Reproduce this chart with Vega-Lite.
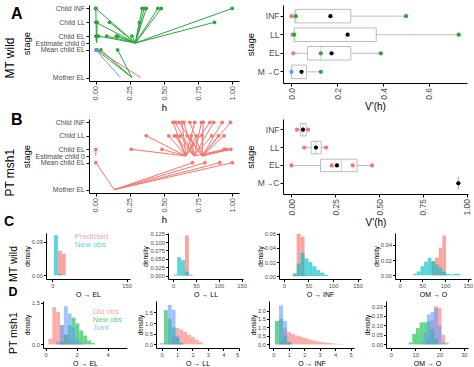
{
"$schema": "https://vega.github.io/schema/vega-lite/v6.json",
"padding": {"left": 3, "top": 4, "right": 0, "bottom": 0},
"background": "white",
"columns": 1,
"align": "none",
"spacing": 0,
"config": {
  "view": {"stroke": null},
  "font": "Liberation Sans",
  "axis": {"grid": false, "domainColor": "black", "tickColor": "black", "tickSize": 3, "labelColor": "#4D4D4D", "titleColor": "black", "titleFontWeight": "normal", "labelPadding": 1.5, "titlePadding": 3, "labelFont": "Liberation Sans", "titleFont": "Liberation Sans", "labelOverlap": false},
  "title": {"fontWeight": "normal", "color": "black", "font": "Liberation Sans"}
},
"datasets": {
  "none": [],
  "segA": [
    {"h":0,"y":5,"h2":0.29,"y2":2.5,"c":"g"},
    {"h":0,"y":5,"h2":0.005,"y2":2.5,"c":"g"},
    {"h":0.34,"y":5,"h2":0.29,"y2":2.5,"c":"g"},
    {"h":0.355,"y":5,"h2":0.29,"y2":2.5,"c":"g"},
    {"h":0.37,"y":5,"h2":0.29,"y2":2.5,"c":"g"},
    {"h":0.455,"y":5,"h2":0.29,"y2":2.5,"c":"g"},
    {"h":0.48,"y":5,"h2":0.29,"y2":2.5,"c":"g"},
    {"h":1.0,"y":5,"h2":0.29,"y2":2.5,"c":"g"},
    {"h":0,"y":4,"h2":0.29,"y2":2.5,"c":"g"},
    {"h":0.01,"y":4,"h2":0.005,"y2":2.5,"c":"g"},
    {"h":0.10,"y":4,"h2":0.29,"y2":2.5,"c":"g"},
    {"h":0.32,"y":4,"h2":0.29,"y2":2.5,"c":"g"},
    {"h":0.87,"y":4,"h2":0.29,"y2":2.5,"c":"g"},
    {"h":0,"y":3,"h2":0.005,"y2":2.5,"c":"g"},
    {"h":0.01,"y":3,"h2":0.005,"y2":2.5,"c":"g"},
    {"h":0.02,"y":3,"h2":0.29,"y2":2.5,"c":"g"},
    {"h":0.08,"y":3,"h2":0.29,"y2":2.5,"c":"g"},
    {"h":0.15,"y":3,"h2":0.29,"y2":2.5,"c":"g"},
    {"h":0.16,"y":3,"h2":0.29,"y2":2.5,"c":"g"},
    {"h":0.265,"y":3,"h2":0.29,"y2":2.5,"c":"g"},
    {"h":0.01,"y":2,"h2":0.33,"y2":0,"c":"r"},
    {"h":0.005,"y":2,"h2":0.265,"y2":0,"c":"g"},
    {"h":0.037,"y":2,"h2":0.265,"y2":0,"c":"g"},
    {"h":0.16,"y":2,"h2":0.265,"y2":0,"c":"g"},
    {"h":0,"y":2,"h2":0.18,"y2":0,"c":"b"}
  ],
  "segB": [
    {"h":0,"y":2,"h2":0.135,"y2":0},
    {"h":0.71,"y":2,"h2":0.135,"y2":0},
    {"h":0.80,"y":2,"h2":0.135,"y2":0},
    {"h":0.91,"y":2,"h2":0.135,"y2":0},
    {"h":1.0,"y":2,"h2":0.135,"y2":0},
    {"h":0,"y":3,"h2":0,"y2":2.5},
    {"h":0.26,"y":3,"h2":0.66,"y2":2.5},
    {"h":0.485,"y":3,"h2":0.66,"y2":2.5},
    {"h":0.94,"y":3,"h2":0.78,"y2":2.5},
    {"h":0.95,"y":3,"h2":0.72,"y2":2.5},
    {"h":0.96,"y":3,"h2":0.78,"y2":2.5},
    {"h":0.99,"y":3,"h2":0.78,"y2":2.5},
    {"h":0.37,"y":4,"h2":0.66,"y2":2.5},
    {"h":0.535,"y":4,"h2":0.66,"y2":2.5},
    {"h":0.576,"y":4,"h2":0.72,"y2":2.5},
    {"h":0.59,"y":4,"h2":0.66,"y2":2.5},
    {"h":0.62,"y":4,"h2":0.72,"y2":2.5},
    {"h":0.67,"y":4,"h2":0.78,"y2":2.5},
    {"h":0.70,"y":4,"h2":0.72,"y2":2.5},
    {"h":0.74,"y":4,"h2":0.66,"y2":2.5},
    {"h":0.78,"y":4,"h2":0.78,"y2":2.5},
    {"h":0.85,"y":4,"h2":0.72,"y2":2.5},
    {"h":0.90,"y":4,"h2":0.78,"y2":2.5},
    {"h":0.94,"y":4,"h2":0.78,"y2":2.5},
    {"h":0.566,"y":5,"h2":0.66,"y2":2.5},
    {"h":0.583,"y":5,"h2":0.72,"y2":2.5},
    {"h":0.608,"y":5,"h2":0.78,"y2":2.5},
    {"h":0.632,"y":5,"h2":0.66,"y2":2.5},
    {"h":0.645,"y":5,"h2":0.72,"y2":2.5},
    {"h":0.69,"y":5,"h2":0.78,"y2":2.5},
    {"h":0.725,"y":5,"h2":0.66,"y2":2.5},
    {"h":0.775,"y":5,"h2":0.72,"y2":2.5},
    {"h":0.787,"y":5,"h2":0.78,"y2":2.5},
    {"h":0.836,"y":5,"h2":0.66,"y2":2.5},
    {"h":0.865,"y":5,"h2":0.72,"y2":2.5},
    {"h":0.926,"y":5,"h2":0.78,"y2":2.5},
    {"h":0.988,"y":5,"h2":0.78,"y2":2.5}
  ],
  "boxA": [
    {"st":"INF","lo":0.0,"q1":0.015,"med":0.019,"q3":0.259,"hi":0.50},
    {"st":"LL","lo":0.005,"q1":0.012,"med":0.013,"q3":0.37,"hi":0.73},
    {"st":"EL","lo":0.008,"q1":0.07,"med":0.128,"q3":0.259,"hi":0.39},
    {"st":"M→C","lo":0.0,"q1":0.0,"med":0.0,"q3":0.065,"hi":0.128}
  ],
  "dotA": [
    {"st":"INF","v":0.0,"c":"r"},{"st":"INF","v":0.019,"c":"g"},{"st":"INF","v":0.50,"c":"g"},{"st":"INF","v":0.17,"c":"k"},
    {"st":"LL","v":0.005,"c":"r"},{"st":"LL","v":0.012,"c":"g"},{"st":"LL","v":0.73,"c":"g"},{"st":"LL","v":0.245,"c":"k"},
    {"st":"EL","v":0.008,"c":"r"},{"st":"EL","v":0.128,"c":"g"},{"st":"EL","v":0.39,"c":"g"},{"st":"EL","v":0.175,"c":"k"},
    {"st":"M→C","v":0.0,"c":"b"},{"st":"M→C","v":0.128,"c":"g"},{"st":"M→C","v":0.044,"c":"k"}
  ],
  "boxB": [
    {"st":"INF","lo":0.032,"q1":0.051,"med":0.066,"q3":0.084,"hi":0.095},
    {"st":"LL","lo":0.073,"q1":0.113,"med":0.137,"q3":0.17,"hi":0.198},
    {"st":"EL","lo":0.0,"q1":0.166,"med":0.286,"q3":0.375,"hi":0.46},
    {"st":"M→C","lo":0.953,"q1":0.953,"med":0.953,"q3":0.953,"hi":0.953}
  ],
  "dotB": [
    {"st":"INF","v":0.032,"c":"r"},{"st":"INF","v":0.095,"c":"r"},{"st":"INF","v":0.066,"c":"k"},
    {"st":"LL","v":0.073,"c":"r"},{"st":"LL","v":0.198,"c":"r"},{"st":"LL","v":0.14,"c":"k"},
    {"st":"EL","v":0.0,"c":"r"},{"st":"EL","v":0.23,"c":"r"},{"st":"EL","v":0.35,"c":"r"},{"st":"EL","v":0.46,"c":"r"},{"st":"EL","v":0.26,"c":"k"},
    {"st":"M→C","v":0.953,"c":"k"}
  ],
  "hist": [
    {"p":"C1","s":"pred","x0":11,"x1":19,"d":0.066},
    {"p":"C1","s":"pred","x0":19,"x1":27,"d":0.058},
    {"p":"C1","s":"newC","x0":3,"x1":11,"d":0.108},
    {"p":"C1","s":"newC","x0":11,"x1":19,"d":0.004},
    {"p":"C2","s":"pred","x0":17.7,"x1":26.2,"d":0.002},
    {"p":"C2","s":"pred","x0":26.2,"x1":34.7,"d":0.12},
    {"p":"C2","s":"newC","x0":0.7,"x1":9.2,"d":0.003},
    {"p":"C2","s":"newC","x0":9.2,"x1":17.7,"d":0.055},
    {"p":"C2","s":"newC","x0":17.7,"x1":26.2,"d":0.046},
    {"p":"C2","s":"newC","x0":26.2,"x1":34.7,"d":0.012},
    {"p":"C2","s":"newC","x0":34.7,"x1":43.2,"d":0.003},
    {"p":"C3","s":"pred","x0":18,"x1":26,"d":0.002},
    {"p":"C3","s":"pred","x0":26,"x1":34,"d":0.06},
    {"p":"C3","s":"pred","x0":34,"x1":42,"d":0.056},
    {"p":"C3","s":"pred","x0":42,"x1":50,"d":0.001},
    {"p":"C3","s":"newC","x0":18,"x1":26,"d":0.004},
    {"p":"C3","s":"newC","x0":26,"x1":34,"d":0.018},
    {"p":"C3","s":"newC","x0":34,"x1":42,"d":0.033},
    {"p":"C3","s":"newC","x0":42,"x1":50,"d":0.025},
    {"p":"C3","s":"newC","x0":50,"x1":58,"d":0.02},
    {"p":"C3","s":"newC","x0":58,"x1":66,"d":0.014},
    {"p":"C3","s":"newC","x0":66,"x1":74,"d":0.009},
    {"p":"C3","s":"newC","x0":74,"x1":82,"d":0.005},
    {"p":"C3","s":"newC","x0":82,"x1":90,"d":0.002},
    {"p":"C4","s":"pred","x0":70,"x1":78,"d":0.018},
    {"p":"C4","s":"pred","x0":78,"x1":86,"d":0.023},
    {"p":"C4","s":"pred","x0":86,"x1":94,"d":0.036},
    {"p":"C4","s":"pred","x0":94,"x1":102,"d":0.052},
    {"p":"C4","s":"newC","x0":30,"x1":38,"d":0.002},
    {"p":"C4","s":"newC","x0":38,"x1":46,"d":0.005},
    {"p":"C4","s":"newC","x0":46,"x1":54,"d":0.012},
    {"p":"C4","s":"newC","x0":54,"x1":62,"d":0.018},
    {"p":"C4","s":"newC","x0":62,"x1":70,"d":0.023},
    {"p":"C4","s":"newC","x0":70,"x1":78,"d":0.019},
    {"p":"C4","s":"newC","x0":78,"x1":86,"d":0.014},
    {"p":"C4","s":"newC","x0":86,"x1":94,"d":0.010},
    {"p":"C4","s":"newC","x0":94,"x1":102,"d":0.005},
    {"p":"C4","s":"newC","x0":102,"x1":110,"d":0.002},
    {"p":"C4","s":"newC","x0":110,"x1":118,"d":0.001},
    {"p":"C4","s":"newC","x0":118,"x1":126,"d":0.002},
    {"p":"C4","s":"newC","x0":126,"x1":134,"d":0.002},
    {"p":"D1","s":"old","x0":0.18,"x1":0.43,"d":0.2},
    {"p":"D1","s":"old","x0":0.43,"x1":0.68,"d":1.35},
    {"p":"D1","s":"old","x0":0.68,"x1":0.93,"d":1.17},
    {"p":"D1","s":"old","x0":0.93,"x1":1.18,"d":0.7},
    {"p":"D1","s":"old","x0":1.18,"x1":1.43,"d":0.35},
    {"p":"D1","s":"old","x0":1.43,"x1":1.68,"d":0.2},
    {"p":"D1","s":"old","x0":1.68,"x1":1.93,"d":0.1},
    {"p":"D1","s":"old","x0":1.93,"x1":2.18,"d":0.05},
    {"p":"D1","s":"newD","x0":0.93,"x1":1.18,"d":0.1},
    {"p":"D1","s":"newD","x0":1.18,"x1":1.43,"d":0.35},
    {"p":"D1","s":"newD","x0":1.43,"x1":1.68,"d":0.7},
    {"p":"D1","s":"newD","x0":1.68,"x1":1.93,"d":0.97},
    {"p":"D1","s":"newD","x0":1.93,"x1":2.18,"d":0.76},
    {"p":"D1","s":"newD","x0":2.18,"x1":2.43,"d":0.5},
    {"p":"D1","s":"newD","x0":2.43,"x1":2.68,"d":0.32},
    {"p":"D1","s":"newD","x0":2.68,"x1":2.93,"d":0.14},
    {"p":"D1","s":"newD","x0":2.93,"x1":3.18,"d":0.05},
    {"p":"D1","s":"joint","x0":0.68,"x1":0.93,"d":0.1},
    {"p":"D1","s":"joint","x0":0.93,"x1":1.18,"d":0.7},
    {"p":"D1","s":"joint","x0":1.18,"x1":1.43,"d":1.38},
    {"p":"D1","s":"joint","x0":1.43,"x1":1.68,"d":1.12},
    {"p":"D1","s":"joint","x0":1.68,"x1":1.93,"d":0.6},
    {"p":"D1","s":"joint","x0":1.93,"x1":2.18,"d":0.2},
    {"p":"D1","s":"joint","x0":2.18,"x1":2.43,"d":0.05},
    {"p":"D2","s":"old","x0":0.4,"x1":0.65,"d":0.05},
    {"p":"D2","s":"old","x0":0.65,"x1":0.9,"d":0.4},
    {"p":"D2","s":"old","x0":0.9,"x1":1.15,"d":0.77},
    {"p":"D2","s":"old","x0":1.15,"x1":1.4,"d":0.7},
    {"p":"D2","s":"old","x0":1.4,"x1":1.65,"d":0.58},
    {"p":"D2","s":"old","x0":1.65,"x1":1.9,"d":0.45},
    {"p":"D2","s":"old","x0":1.9,"x1":2.15,"d":0.34},
    {"p":"D2","s":"old","x0":2.15,"x1":2.4,"d":0.22},
    {"p":"D2","s":"old","x0":2.4,"x1":2.65,"d":0.11},
    {"p":"D2","s":"old","x0":2.65,"x1":2.9,"d":0.03},
    {"p":"D2","s":"newD","x0":-0.1,"x1":0.15,"d":0.05},
    {"p":"D2","s":"newD","x0":0.15,"x1":0.4,"d":1.6},
    {"p":"D2","s":"newD","x0":0.4,"x1":0.65,"d":1.2},
    {"p":"D2","s":"newD","x0":0.65,"x1":0.9,"d":0.8},
    {"p":"D2","s":"newD","x0":0.9,"x1":1.15,"d":0.3},
    {"p":"D2","s":"newD","x0":1.15,"x1":1.4,"d":0.05},
    {"p":"D2","s":"joint","x0":0.15,"x1":0.4,"d":0.05},
    {"p":"D2","s":"joint","x0":0.4,"x1":0.65,"d":1.85},
    {"p":"D2","s":"joint","x0":0.65,"x1":0.9,"d":1.62},
    {"p":"D2","s":"joint","x0":0.9,"x1":1.15,"d":0.4},
    {"p":"D2","s":"joint","x0":1.15,"x1":1.4,"d":0.08},
    {"p":"D3","s":"old","x0":0.37,"x1":0.63,"d":0.2},
    {"p":"D3","s":"old","x0":0.63,"x1":0.89,"d":0.95},
    {"p":"D3","s":"old","x0":0.89,"x1":1.15,"d":0.72},
    {"p":"D3","s":"old","x0":1.15,"x1":1.41,"d":0.62},
    {"p":"D3","s":"old","x0":1.41,"x1":1.67,"d":0.52},
    {"p":"D3","s":"old","x0":1.67,"x1":1.93,"d":0.45},
    {"p":"D3","s":"old","x0":1.93,"x1":2.19,"d":0.38},
    {"p":"D3","s":"old","x0":2.19,"x1":2.45,"d":0.3},
    {"p":"D3","s":"old","x0":2.45,"x1":2.71,"d":0.24},
    {"p":"D3","s":"old","x0":2.71,"x1":2.97,"d":0.19},
    {"p":"D3","s":"old","x0":2.97,"x1":3.23,"d":0.15},
    {"p":"D3","s":"old","x0":3.23,"x1":3.49,"d":0.11},
    {"p":"D3","s":"old","x0":3.49,"x1":3.75,"d":0.08},
    {"p":"D3","s":"old","x0":3.75,"x1":4.01,"d":0.06},
    {"p":"D3","s":"old","x0":4.01,"x1":4.27,"d":0.04},
    {"p":"D3","s":"old","x0":4.27,"x1":4.53,"d":0.02},
    {"p":"D3","s":"newD","x0":0.11,"x1":0.37,"d":1.38},
    {"p":"D3","s":"newD","x0":0.37,"x1":0.63,"d":1.5},
    {"p":"D3","s":"newD","x0":0.63,"x1":0.89,"d":0.5},
    {"p":"D3","s":"newD","x0":0.89,"x1":1.15,"d":0.15},
    {"p":"D3","s":"joint","x0":0.37,"x1":0.63,"d":2.3},
    {"p":"D3","s":"joint","x0":0.63,"x1":0.89,"d":1.38},
    {"p":"D3","s":"joint","x0":0.89,"x1":1.15,"d":0.15},
    {"p":"D4","s":"old","x0":14.8,"x1":16.3,"d":0.03},
    {"p":"D4","s":"old","x0":16.3,"x1":17.8,"d":0.13},
    {"p":"D4","s":"old","x0":17.8,"x1":19.3,"d":0.2},
    {"p":"D4","s":"old","x0":19.3,"x1":20.8,"d":0.19},
    {"p":"D4","s":"old","x0":20.8,"x1":22.3,"d":0.05},
    {"p":"D4","s":"old","x0":22.3,"x1":23.8,"d":0.01},
    {"p":"D4","s":"newD","x0":7.3,"x1":8.8,"d":0.01},
    {"p":"D4","s":"newD","x0":8.8,"x1":10.3,"d":0.055},
    {"p":"D4","s":"newD","x0":10.3,"x1":11.8,"d":0.085},
    {"p":"D4","s":"newD","x0":11.8,"x1":13.3,"d":0.115},
    {"p":"D4","s":"newD","x0":13.3,"x1":14.8,"d":0.115},
    {"p":"D4","s":"newD","x0":14.8,"x1":16.3,"d":0.12},
    {"p":"D4","s":"newD","x0":16.3,"x1":17.8,"d":0.08},
    {"p":"D4","s":"newD","x0":17.8,"x1":19.3,"d":0.03},
    {"p":"D4","s":"joint","x0":11.8,"x1":13.3,"d":0.01},
    {"p":"D4","s":"joint","x0":13.3,"x1":14.8,"d":0.06},
    {"p":"D4","s":"joint","x0":14.8,"x1":16.3,"d":0.157},
    {"p":"D4","s":"joint","x0":16.3,"x1":17.8,"d":0.17},
    {"p":"D4","s":"joint","x0":17.8,"x1":19.3,"d":0.19},
    {"p":"D4","s":"joint","x0":19.3,"x1":20.8,"d":0.1},
    {"p":"D4","s":"joint","x0":20.8,"x1":22.3,"d":0.01}
  ],
  "leg": [
    {"p":"C1","s":"pred","x":45,"y":0.103,"t":"Predicted"},
    {"p":"C1","s":"newC","x":45,"y":0.081,"t":"New obs"},
    {"p":"D1","s":"old","x":3.05,"y":1.18,"t":"Old obs"},
    {"p":"D1","s":"newD","x":3.05,"y":0.89,"t":"New obs"},
    {"p":"D1","s":"joint","x":3.05,"y":0.6,"t":"Joint"}
  ]
},
"concat": [
  {
    "title": {"text": "A", "anchor": "start", "frame": "bounds", "offset": -18, "dx": 7, "fontSize": 16, "fontWeight": "bold"},
    "vconcat": [{
      "title": {"text": "MT wild", "orient": "left", "anchor": "middle", "frame": "bounds", "fontSize": 12, "offset": -5},
      "spacing": 6,
      "hconcat": [
        {"width": 3, "height": 1, "data": {"name": "none"}, "mark": {"type": "point", "opacity": 0}},
        {
          "width": 150, "height": 76,
          "data": {"name": "segA"},
          "encoding": {
            "x": {"field": "h", "type": "quantitative", "scale": {"domain": [-0.05, 1.05], "nice": false, "zero": false},
                  "axis": {"title": "h", "values": [0, 0.25, 0.5, 0.75, 1], "format": ".2f", "labelAngle": -90, "labelFontSize": 7.5, "titleFontSize": 9.5, "titlePadding": 2}},
            "y": {"field": "y", "type": "quantitative", "scale": {"domain": [-0.25, 5.25], "nice": false, "zero": false},
                  "axis": {"title": "stage", "values": [0, 2, 2.5, 3, 4, 5], "labelFontSize": 7.0, "titleFontSize": 9.5, "titlePadding": 3.5,
                           "labelExpr": "datum.value == 0 ? 'Mother EL' : datum.value == 2 ? 'Mean child EL' : datum.value == 2.5 ? 'Estimate child 0' : datum.value == 3 ? 'Child EL' : datum.value == 4 ? 'Child LL' : 'Child INF'"}},
            "color": {"field": "c", "type": "nominal", "scale": {"domain": ["g","b","r","k","pred","newC","old","newD","joint"], "range": ["#2DA53C","#619CFF","#F8766D","#000000","#F8766D","#00BFC4","#F8766D","#00BA38","#619CFF"]}, "legend": null}
          },
          "layer": [
            {"mark": {"type": "rule", "strokeWidth": 1}, "encoding": {"x2": {"field": "h2"}, "y2": {"field": "y2"}}},
            {"mark": {"type": "circle", "size": 14, "opacity": 1}, "encoding": {}}
          ]
        },
        {
          "width": 184, "height": 78,
          "layer": [
            {"data": {"name": "boxA"}, "mark": {"type": "rule", "color": "#BDBDBD"},
             "encoding": {
               "x": {"field": "lo", "type": "quantitative", "scale": {"domain": [-0.037, 0.766], "nice": false, "zero": false},
                     "axis": {"title": "V'(h)", "values": [0, 0.2, 0.4, 0.6], "format": ".1f", "labelAngle": -90, "labelFontSize": 8.5, "titleFontSize": 10, "titlePadding": 2}},
               "x2": {"field": "hi"},
               "y": {"field": "st", "type": "nominal", "sort": ["INF", "LL", "EL", "M→C"], "scale": {"paddingInner": 0, "paddingOuter": 0.1},
                     "axis": {"title": "stage", "labelFontSize": 8.5, "titleFontSize": 9.5, "titlePadding": 2, "labelPadding": 1}}}},
            {"data": {"name": "boxA"}, "mark": {"type": "bar", "fill": "white", "stroke": "#BDBDBD", "strokeWidth": 1, "height": {"band": 0.73}},
             "encoding": {"x": {"field": "q1", "type": "quantitative"}, "x2": {"field": "q3"}, "y": {"field": "st", "type": "nominal", "sort": ["INF", "LL", "EL", "M→C"]}}},
            {"data": {"name": "boxA"}, "mark": {"type": "tick", "color": "#BDBDBD", "orient": "vertical", "size": 14, "thickness": 1},
             "encoding": {"x": {"field": "med", "type": "quantitative"}, "y": {"field": "st", "type": "nominal", "sort": ["INF", "LL", "EL", "M→C"]}}},
            {"data": {"name": "dotA"}, "mark": {"type": "circle", "size": 18, "opacity": 1},
             "encoding": {"x": {"field": "v", "type": "quantitative"}, "y": {"field": "st", "type": "nominal", "sort": ["INF", "LL", "EL", "M→C"]},
                          "color": {"field": "c", "type": "nominal", "scale": {"domain": ["g","b","r","k","pred","newC","old","newD","joint"], "range": ["#2DA53C","#619CFF","#F8766D","#000000","#F8766D","#00BFC4","#F8766D","#00BA38","#619CFF"]}, "legend": null}}}
          ]
        }
      ]
    }]
  },
  {
    "title": {"text": "C", "orient": "bottom", "anchor": "start", "frame": "bounds", "offset": -12, "dx": 0, "fontSize": 14, "fontWeight": "bold"},
    "vconcat": [{
      "title": {"text": "B", "anchor": "start", "frame": "bounds", "offset": -10, "dx": 7, "fontSize": 16, "fontWeight": "bold"},
      "vconcat": [{
        "title": {"text": "PT msh1", "orient": "left", "anchor": "middle", "frame": "bounds", "fontSize": 12, "offset": -5},
        "spacing": 6,
        "hconcat": [
          {"width": 3, "height": 1, "data": {"name": "none"}, "mark": {"type": "point", "opacity": 0}},
          {
            "width": 150, "height": 74,
            "data": {"name": "segB"},
            "encoding": {
              "x": {"field": "h", "type": "quantitative", "scale": {"domain": [-0.05, 1.05], "nice": false, "zero": false},
                    "axis": {"title": "h", "values": [0, 0.25, 0.5, 0.75, 1], "format": ".2f", "labelAngle": -90, "labelFontSize": 7.5, "titleFontSize": 9.5, "titlePadding": 2}},
              "y": {"field": "y", "type": "quantitative", "scale": {"domain": [-0.25, 5.25], "nice": false, "zero": false},
                    "axis": {"title": "stage", "values": [0, 2, 2.5, 3, 4, 5], "labelFontSize": 7.0, "titleFontSize": 9.5, "titlePadding": 3.5,
                             "labelExpr": "datum.value == 0 ? 'Mother EL' : datum.value == 2 ? 'Mean child EL' : datum.value == 2.5 ? 'Estimate child 0' : datum.value == 3 ? 'Child EL' : datum.value == 4 ? 'Child LL' : 'Child INF'"}}
            },
            "layer": [
              {"mark": {"type": "rule", "strokeWidth": 1, "color": "#F8766D"}, "encoding": {"x2": {"field": "h2"}, "y2": {"field": "y2"}}},
              {"mark": {"type": "circle", "size": 14, "opacity": 1, "color": "#F8766D"}, "encoding": {}}
            ]
          },
          {
            "width": 185, "height": 75,
            "layer": [
              {"data": {"name": "boxB"}, "mark": {"type": "rule", "color": "#BDBDBD"},
               "encoding": {
                 "x": {"field": "lo", "type": "quantitative", "scale": {"domain": [-0.048, 1.008], "nice": false, "zero": false},
                       "axis": {"title": "V'(h)", "values": [0, 0.25, 0.5, 0.75, 1], "format": ".2f", "labelAngle": -90, "labelFontSize": 8.5, "titleFontSize": 10, "titlePadding": 2}},
                 "x2": {"field": "hi"},
                 "y": {"field": "st", "type": "nominal", "sort": ["INF", "LL", "EL", "M→C"], "scale": {"paddingInner": 0, "paddingOuter": 0.1},
                       "axis": {"title": "stage", "labelFontSize": 8.5, "titleFontSize": 9.5, "titlePadding": 2, "labelPadding": 1}}}},
              {"data": {"name": "boxB"}, "mark": {"type": "bar", "fill": "white", "stroke": "#BDBDBD", "strokeWidth": 1, "height": {"band": 0.7}},
               "encoding": {"x": {"field": "q1", "type": "quantitative"}, "x2": {"field": "q3"}, "y": {"field": "st", "type": "nominal", "sort": ["INF", "LL", "EL", "M→C"]}}},
              {"data": {"name": "boxB"}, "mark": {"type": "tick", "color": "#BDBDBD", "orient": "vertical", "size": 13, "thickness": 1},
               "encoding": {"x": {"field": "med", "type": "quantitative"}, "y": {"field": "st", "type": "nominal", "sort": ["INF", "LL", "EL", "M→C"]}}},
              {"data": {"name": "dotB"}, "mark": {"type": "circle", "size": 18, "opacity": 1},
               "encoding": {"x": {"field": "v", "type": "quantitative"}, "y": {"field": "st", "type": "nominal", "sort": ["INF", "LL", "EL", "M→C"]},
                            "color": {"field": "c", "type": "nominal", "scale": {"domain": ["g","b","r","k","pred","newC","old","newD","joint"], "range": ["#2DA53C","#619CFF","#F8766D","#000000","#F8766D","#00BFC4","#F8766D","#00BA38","#619CFF"]}, "legend": null}}}
            ]
          }
        ]
      }]
    }]
  },
  {
    "title": {"text": "D", "orient": "bottom", "anchor": "start", "frame": "bounds", "offset": -11, "dx": 0, "fontSize": 12.5, "fontWeight": "bold"},
    "vconcat": [{
      "title": {"text": "MT wild", "orient": "left", "anchor": "middle", "frame": "bounds", "fontSize": 10.5, "offset": -7},
      "spacing": 10,
      "hconcat": [
        {"width": 2, "height": 1, "data": {"name": "none"}, "mark": {"type": "point", "opacity": 0}},
        {
          "width": 84, "height": 46,
          "layer": [
            {"data": {"name": "hist"}, "transform": [{"filter": "datum.p == 'C1'"}], "mark": {"type": "bar", "opacity": 0.65},
             "encoding": {
               "x": {"field": "x0", "type": "quantitative", "scale": {"domain": [-13, 157], "nice": false, "zero": false}, "axis": {"title": "O → EL", "values": [0, 50, 100, 150], "labelFontSize": 5.8, "titleFontSize": 7, "tickSize": 2.5, "titlePadding": 2, "labelPadding": 1}},
               "x2": {"field": "x1"},
               "y": {"field": "d", "type": "quantitative", "scale": {"domain": [-0.01, 0.114], "nice": false, "zero": false}, "axis": {"title": "density", "values": [0, 0.03, 0.06, 0.09], "format": ".2f", "labelFontSize": 5.8, "titleFontSize": 6.5, "tickSize": 2.5, "titlePadding": 1, "labelPadding": 1}},
               "y2": {"datum": 0},
               "color": {"field": "s", "type": "nominal", "scale": {"domain": ["g","b","r","k","pred","newC","old","newD","joint"], "range": ["#2DA53C","#619CFF","#F8766D","#000000","#F8766D","#00BFC4","#F8766D","#00BA38","#619CFF"]}, "legend": null}}},
            {"data": {"name": "leg"}, "transform": [{"filter": "datum.p == 'C1'"}], "mark": {"type": "text", "align": "left", "baseline": "middle", "fontSize": 8, "opacity": 0.65},
             "encoding": {"x": {"field": "x", "type": "quantitative"}, "y": {"field": "y", "type": "quantitative"}, "text": {"field": "t"}, "color": {"field": "s", "type": "nominal", "legend": null}}}
          ]
        },
        {
          "width": 75, "height": 46,
          "data": {"name": "hist"}, "transform": [{"filter": "datum.p == 'C2'"}], "mark": {"type": "bar", "opacity": 0.65},
          "encoding": {
            "x": {"field": "x0", "type": "quantitative", "scale": {"domain": [-11, 153], "nice": false, "zero": false}, "axis": {"title": "O → LL", "values": [0, 50, 100, 150], "labelFontSize": 5.8, "titleFontSize": 7, "tickSize": 2.5, "titlePadding": 2, "labelPadding": 1}},
            "x2": {"field": "x1"},
            "y": {"field": "d", "type": "quantitative", "scale": {"domain": [-0.01, 0.127], "nice": false, "zero": false}, "axis": {"title": "density", "values": [0, 0.025, 0.05, 0.075, 0.1, 0.125], "format": ".3f", "labelFontSize": 5.8, "titleFontSize": 6.5, "tickSize": 2.5, "titlePadding": 1, "labelPadding": 1}},
            "y2": {"datum": 0},
            "color": {"field": "s", "type": "nominal", "scale": {"domain": ["g","b","r","k","pred","newC","old","newD","joint"], "range": ["#2DA53C","#619CFF","#F8766D","#000000","#F8766D","#00BFC4","#F8766D","#00BA38","#619CFF"]}, "legend": null}}
        },
        {
          "width": 82, "height": 46,
          "data": {"name": "hist"}, "transform": [{"filter": "datum.p == 'C3'"}], "mark": {"type": "bar", "opacity": 0.65},
          "encoding": {
            "x": {"field": "x0", "type": "quantitative", "scale": {"domain": [-10, 157], "nice": false, "zero": false}, "axis": {"title": "O → INF", "values": [0, 50, 100, 150], "labelFontSize": 5.8, "titleFontSize": 7, "tickSize": 2.5, "titlePadding": 2, "labelPadding": 1}},
            "x2": {"field": "x1"},
            "y": {"field": "d", "type": "quantitative", "scale": {"domain": [-0.004, 0.0612], "nice": false, "zero": false}, "axis": {"title": "density", "values": [0, 0.02, 0.04, 0.06], "format": ".2f", "labelFontSize": 5.8, "titleFontSize": 6.5, "tickSize": 2.5, "titlePadding": 1, "labelPadding": 1}},
            "y2": {"datum": 0},
            "color": {"field": "s", "type": "nominal", "scale": {"domain": ["g","b","r","k","pred","newC","old","newD","joint"], "range": ["#2DA53C","#619CFF","#F8766D","#000000","#F8766D","#00BFC4","#F8766D","#00BA38","#619CFF"]}, "legend": null}}
        },
        {
          "width": 76, "height": 46,
          "data": {"name": "hist"}, "transform": [{"filter": "datum.p == 'C4'"}], "mark": {"type": "bar", "opacity": 0.65},
          "encoding": {
            "x": {"field": "x0", "type": "quantitative", "scale": {"domain": [-10, 157], "nice": false, "zero": false}, "axis": {"title": "OM → O", "values": [0, 50, 100, 150], "labelFontSize": 5.8, "titleFontSize": 7, "tickSize": 2.5, "titlePadding": 2, "labelPadding": 1}},
            "x2": {"field": "x1"},
            "y": {"field": "d", "type": "quantitative", "scale": {"domain": [-0.0048, 0.0553], "nice": false, "zero": false}, "axis": {"title": "density", "values": [0, 0.02, 0.04], "format": ".2f", "labelFontSize": 5.8, "titleFontSize": 6.5, "tickSize": 2.5, "titlePadding": 1, "labelPadding": 1}},
            "y2": {"datum": 0},
            "color": {"field": "s", "type": "nominal", "scale": {"domain": ["g","b","r","k","pred","newC","old","newD","joint"], "range": ["#2DA53C","#619CFF","#F8766D","#000000","#F8766D","#00BFC4","#F8766D","#00BA38","#619CFF"]}, "legend": null}}
        }
      ]
    }]
  },
  {
    "title": {"text": "PT msh1", "orient": "left", "anchor": "middle", "frame": "bounds", "fontSize": 10.5, "offset": -7},
    "spacing": 10,
    "hconcat": [
      {"width": 2, "height": 1, "data": {"name": "none"}, "mark": {"type": "point", "opacity": 0}},
      {
        "width": 84, "height": 47,
        "layer": [
          {"data": {"name": "hist"}, "transform": [{"filter": "datum.p == 'D1'"}], "mark": {"type": "bar", "opacity": 0.6},
           "encoding": {
             "x": {"field": "x0", "type": "quantitative", "scale": {"domain": [-0.17, 5.26], "nice": false, "zero": false}, "axis": {"title": "O → EL", "values": [0, 1, 2, 3, 4, 5], "labelFontSize": 5.8, "titleFontSize": 7, "tickSize": 2.5, "titlePadding": 2, "labelPadding": 1}},
             "x2": {"field": "x1"},
             "y": {"field": "d", "type": "quantitative", "scale": {"domain": [-0.13, 1.57], "nice": false, "zero": false}, "axis": {"title": "density", "values": [0, 0.5, 1, 1.5], "format": ".1f", "labelFontSize": 5.8, "titleFontSize": 6.5, "tickSize": 2.5, "titlePadding": 1, "labelPadding": 1}},
             "y2": {"datum": 0},
             "color": {"field": "s", "type": "nominal", "scale": {"domain": ["g","b","r","k","pred","newC","old","newD","joint"], "range": ["#2DA53C","#619CFF","#F8766D","#000000","#F8766D","#00BFC4","#F8766D","#00BA38","#619CFF"]}, "legend": null}}},
          {"data": {"name": "leg"}, "transform": [{"filter": "datum.p == 'D1'"}], "mark": {"type": "text", "align": "left", "baseline": "middle", "fontSize": 7.5, "opacity": 0.65},
           "encoding": {"x": {"field": "x", "type": "quantitative"}, "y": {"field": "y", "type": "quantitative"}, "text": {"field": "t"}, "color": {"field": "s", "type": "nominal", "legend": null}}}
        ]
      },
      {
        "width": 83, "height": 47,
        "data": {"name": "hist"}, "transform": [{"filter": "datum.p == 'D2'"}], "mark": {"type": "bar", "opacity": 0.6},
        "encoding": {
          "x": {"field": "x0", "type": "quantitative", "scale": {"domain": [-0.37, 5.02], "nice": false, "zero": false}, "axis": {"title": "O → LL", "values": [0, 1, 2, 3, 4, 5], "labelFontSize": 5.8, "titleFontSize": 7, "tickSize": 2.5, "titlePadding": 2, "labelPadding": 1}},
          "x2": {"field": "x1"},
          "y": {"field": "d", "type": "quantitative", "scale": {"domain": [-0.17, 2.03], "nice": false, "zero": false}, "axis": {"title": "density", "values": [0, 0.5, 1, 1.5], "format": ".1f", "labelFontSize": 5.8, "titleFontSize": 6.5, "tickSize": 2.5, "titlePadding": 1, "labelPadding": 1}},
          "y2": {"datum": 0},
          "color": {"field": "s", "type": "nominal", "scale": {"domain": ["g","b","r","k","pred","newC","old","newD","joint"], "range": ["#2DA53C","#619CFF","#F8766D","#000000","#F8766D","#00BFC4","#F8766D","#00BA38","#619CFF"]}, "legend": null}}
      },
      {
        "width": 85, "height": 47,
        "data": {"name": "hist"}, "transform": [{"filter": "datum.p == 'D3'"}], "mark": {"type": "bar", "opacity": 0.6},
        "encoding": {
          "x": {"field": "x0", "type": "quantitative", "scale": {"domain": [-0.28, 5.22], "nice": false, "zero": false}, "axis": {"title": "O → INF", "values": [0, 1, 2, 3, 4, 5], "labelFontSize": 5.8, "titleFontSize": 7, "tickSize": 2.5, "titlePadding": 2, "labelPadding": 1}},
          "x2": {"field": "x1"},
          "y": {"field": "d", "type": "quantitative", "scale": {"domain": [-0.21, 2.56], "nice": false, "zero": false}, "axis": {"title": "density", "values": [0, 0.5, 1, 1.5, 2], "format": ".1f", "labelFontSize": 5.8, "titleFontSize": 6.5, "tickSize": 2.5, "titlePadding": 1, "labelPadding": 1}},
          "y2": {"datum": 0},
          "color": {"field": "s", "type": "nominal", "scale": {"domain": ["g","b","r","k","pred","newC","old","newD","joint"], "range": ["#2DA53C","#619CFF","#F8766D","#000000","#F8766D","#00BFC4","#F8766D","#00BA38","#619CFF"]}, "legend": null}}
      },
      {
        "width": 82, "height": 47,
        "data": {"name": "hist"}, "transform": [{"filter": "datum.p == 'D4'"}], "mark": {"type": "bar", "opacity": 0.6},
        "encoding": {
          "x": {"field": "x0", "type": "quantitative", "scale": {"domain": [-2.03, 31.7], "nice": false, "zero": false}, "axis": {"title": "OM → O", "values": [0, 10, 20, 30], "labelFontSize": 5.8, "titleFontSize": 7, "tickSize": 2.5, "titlePadding": 2, "labelPadding": 1}},
          "x2": {"field": "x1"},
          "y": {"field": "d", "type": "quantitative", "scale": {"domain": [-0.019, 0.227], "nice": false, "zero": false}, "axis": {"title": "density", "values": [0, 0.05, 0.1, 0.15, 0.2], "format": ".2f", "labelFontSize": 5.8, "titleFontSize": 6.5, "tickSize": 2.5, "titlePadding": 1, "labelPadding": 1}},
          "y2": {"datum": 0},
          "color": {"field": "s", "type": "nominal", "scale": {"domain": ["g","b","r","k","pred","newC","old","newD","joint"], "range": ["#2DA53C","#619CFF","#F8766D","#000000","#F8766D","#00BFC4","#F8766D","#00BA38","#619CFF"]}, "legend": null}}
      }
    ]
  }
]
}
